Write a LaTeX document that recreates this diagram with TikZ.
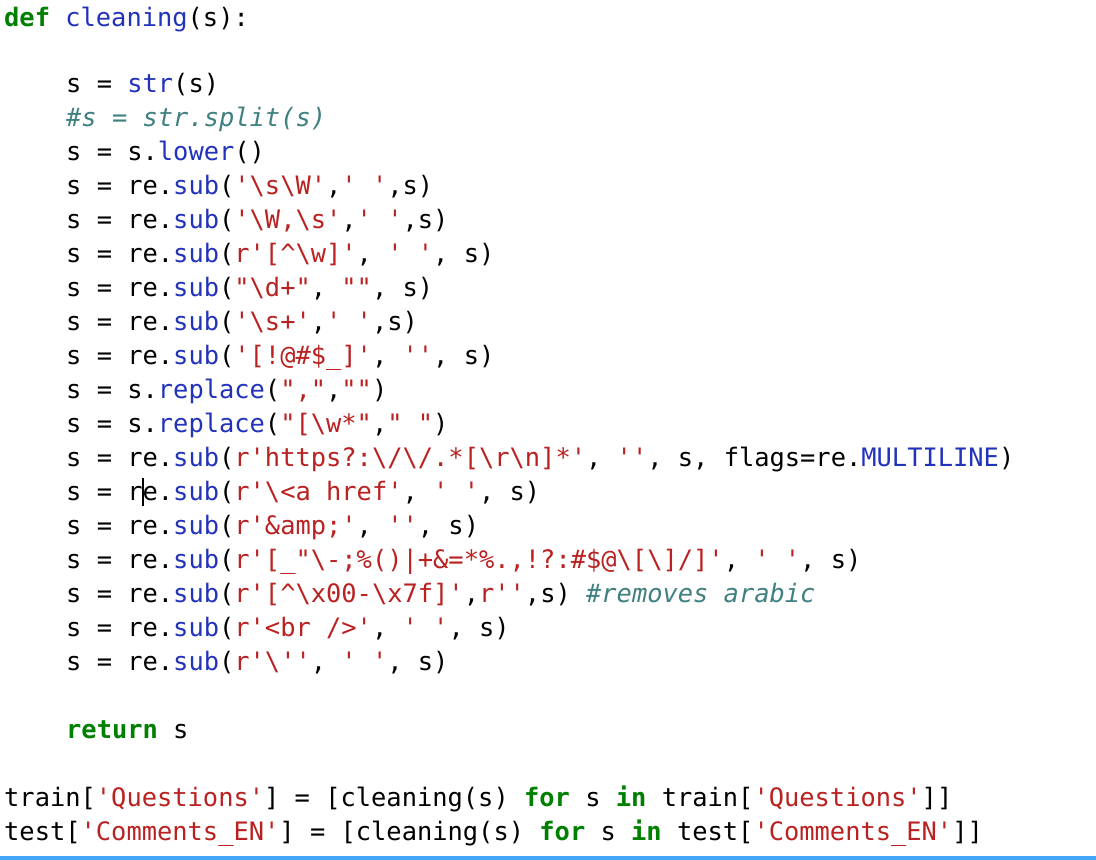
\documentclass[tikz,border=0pt]{standalone}
\usepackage{fontspec}
\setmonofont{DejaVu Sans Mono}
\definecolor{kwc}{HTML}{008000}
\definecolor{fnc}{HTML}{2233BB}
\definecolor{stc}{HTML}{BA2121}
\definecolor{cmc}{HTML}{408080}
\definecolor{barc}{HTML}{42A5F5}
\newcommand{\kw}[1]{\textcolor{kwc}{\bfseries #1}}
\newcommand{\fn}[1]{\textcolor{fnc}{#1}}
\newcommand{\st}[1]{\textcolor{stc}{#1}}
\newcommand{\cm}[1]{\textcolor{cmc}{\itshape #1}}
\newcommand{\bs}{\textbackslash}
\begin{document}
\begin{tikzpicture}[x=1pt,y=-1pt,
  code/.style={anchor=base west,inner sep=0pt,font=\ttfamily\fontsize{25.4}{30}\selectfont\frenchspacing}]
\useasboundingbox (0,0) rectangle (1096,860);
\fill[white] (0,0) rectangle (1096,860);
\node[code] (l0) at (4,26) {\kw{def} \fn{cleaning}(s):};
\node[code] (l1) at (66,92) {s = \fn{str}(s)};
\node[code] (l2) at (66,126) {\cm{\#s = str.split(s)}};
\node[code] (l3) at (66,160) {s = s.\fn{lower}()};
\node[code] (l4) at (66,194) {s = re.\fn{sub}(\st{'\bs s\bs W'},\st{' '},s)};
\node[code] (l5) at (66,228) {s = re.\fn{sub}(\st{'\bs W,\bs s'},\st{' '},s)};
\node[code] (l6) at (66,262) {s = re.\fn{sub}(\st{r'[\^{}\bs w]'}, \st{' '}, s)};
\node[code] (l7) at (66,296) {s = re.\fn{sub}(\st{"\bs d+"}, \st{""}, s)};
\node[code] (l8) at (66,330) {s = re.\fn{sub}(\st{'\bs s+'},\st{' '},s)};
\node[code] (l9) at (66,364) {s = re.\fn{sub}(\st{'[!@\#\$\_]'}, \st{''}, s)};
\node[code] (l10) at (66,398) {s = s.\fn{replace}(\st{","},\st{""})};
\node[code] (l11) at (66,432) {s = s.\fn{replace}(\st{"[\bs w*"},\st{" "})};
\node[code] (l12) at (66,466) {s = re.\fn{sub}(\st{r'https?:\bs/\bs/.*[\bs r\bs n]*'}, \st{''}, s, flags=re.\fn{MULTILINE})};
\node[code] (l13) at (66,500) {s = re.\fn{sub}(\st{r'\bs<a href'}, \st{' '}, s)};
\node[code] (l14) at (66,534) {s = re.\fn{sub}(\st{r'\&amp;'}, \st{''}, s)};
\node[code] (l15) at (66,568) {s = re.\fn{sub}(\st{r'[\_"\bs-;\%()|+\&=*\%.,!?:\#\$@\bs[\bs]/]'}, \st{' '}, s)};
\node[code] (l16) at (66,602) {s = re.\fn{sub}(\st{r'[\^{}\bs x00-\bs x7f]'},\st{r''},s) \cm{\#removes arabic}};
\node[code] (l17) at (66,636) {s = re.\fn{sub}(\st{r'<br />'}, \st{' '}, s)};
\node[code] (l18) at (66,670) {s = re.\fn{sub}(\st{r'\bs''}, \st{' '}, s)};
\node[code] (l19) at (66,738) {\kw{return} s};
\node[code] (l20) at (4,806) {train[\st{'Questions'}] = [cleaning(s) \kw{for} s \kw{in} train[\st{'Questions'}]]};
\node[code] (l21) at (4,840) {test[\st{'Comments\_EN'}] = [cleaning(s) \kw{for} s \kw{in} test[\st{'Comments\_EN'}]]};
\draw[line width=1.2pt] (143,478) -- (143,506);
\fill[barc] (0,856) rectangle (1096,860);
\end{tikzpicture}
\end{document}
